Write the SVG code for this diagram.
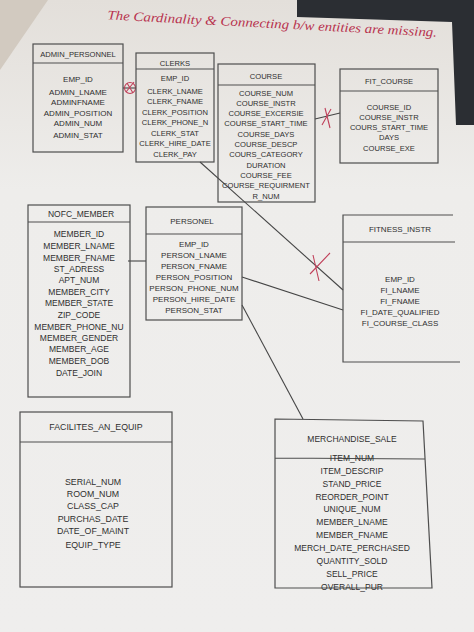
<svg xmlns="http://www.w3.org/2000/svg" width="474" height="632" viewBox="0 0 474 632">
<defs>
<linearGradient id="paper" x1="0" y1="0" x2="0" y2="1">
<stop offset="0" stop-color="#e3dfda"/>
<stop offset="0.3" stop-color="#eeedeb"/>
<stop offset="1" stop-color="#efeeed"/>
</linearGradient>
<style>
.box{fill:none;stroke:#4e4e4e;stroke-width:1.2}
.t{font-family:"Liberation Sans",Arial,sans-serif;fill:#2f2f2f;text-anchor:middle}
.s75{font-size:7.6px}
.s8{font-size:8px}
.s85{font-size:8.5px}
.s88{font-size:8.8px}
.conn line{stroke:#454545;stroke-width:1.1}
.red{stroke:#c0405a;stroke-width:1.1;fill:none}
.note{font-family:"Liberation Serif","DejaVu Serif",serif;font-style:italic;font-size:13px;fill:#b8324e}
</style>
</defs>
<rect width="474" height="632" fill="url(#paper)"/>
<polygon points="0,0 48,0 0,70" fill="#d2cac0"/>
<polygon points="297,0 474,0 474,125 456,125 452,22 297,17" fill="#2b2e33"/>

<text class="note" x="107" y="28" textLength="330" lengthAdjust="spacingAndGlyphs" transform="rotate(3 272 28)">The Cardinality &amp; Connecting b/w entities are missing.</text>

<g id="connectors" class="conn">
<line x1="123" y1="88" x2="136" y2="88"/>
<line x1="315" y1="119" x2="340" y2="113"/>
<line x1="200" y1="162" x2="343" y2="290"/>
<line x1="242" y1="277" x2="343" y2="310"/>
<line x1="242" y1="305" x2="303" y2="419"/>
<line x1="128" y1="261" x2="146" y2="261"/>
</g>
<g id="marks">
<circle class="red" cx="130" cy="88" r="5.5"/>
<path class="red" d="M126,92 L134,82 M127,83 L133,93"/>
<path class="red" d="M325,108 L330,128 M322,125 L331,109"/>
<path class="red" d="M310,274 L330,253 M313,255 L319,281"/>
</g>

<g id="admin_personnel" class="t s8">
<rect class="box" x="33" y="44" width="90" height="108"/>
<line class="box" x1="33" y1="63" x2="123" y2="63"/>
<text class="s75" x="78" y="57">ADMIN_PERSONNEL</text>
<text x="78" y="82">EMP_ID</text>
<text x="78" y="95">ADMIN_LNAME</text>
<text x="78" y="105">ADMINFNAME</text>
<text x="78" y="116">ADMIN_POSITION</text>
<text x="78" y="126">ADMIN_NUM</text>
<text x="78" y="138">ADMIN_STAT</text>
</g>

<g id="clerks" class="t s75">
<rect class="box" x="136" y="53" width="78" height="109"/>
<line class="box" x1="136" y1="69" x2="214" y2="69"/>
<text x="175" y="66">CLERKS</text>
<text x="175" y="81">EMP_ID</text>
<text x="175" y="94">CLERK_LNAME</text>
<text x="175" y="104">CLERK_FNAME</text>
<text x="175" y="115">CLERK_POSITION</text>
<text x="175" y="125">CLERK_PHONE_N</text>
<text x="175" y="136">CLERK_STAT</text>
<text x="175" y="146">CLERK_HIRE_DATE</text>
<text x="175" y="157">CLERK_PAY</text>
</g>

<g id="course" class="t s75">
<rect class="box" x="218" y="64" width="97" height="138"/>
<line class="box" x1="218" y1="85" x2="315" y2="85"/>
<text x="266" y="79">COURSE</text>
<text x="266" y="96">COURSE_NUM</text>
<text x="266" y="106">COURSE_INSTR</text>
<text x="266" y="116">COURSE_EXCERSIE</text>
<text x="266" y="126">COURSE_START_TIME</text>
<text x="266" y="137">COURSE_DAYS</text>
<text x="266" y="147">COURSE_DESCP</text>
<text x="266" y="157">COURS_CATEGORY</text>
<text x="266" y="168">DURATION</text>
<text x="266" y="178">COURSE_FEE</text>
<text x="266" y="188">COURSE_REQUIRMENT</text>
<text x="266" y="199">R_NUM</text>
</g>

<g id="fit_course" class="t s75">
<rect class="box" x="340" y="69" width="98" height="94"/>
<line class="box" x1="340" y1="91" x2="438" y2="91"/>
<text x="389" y="84">FIT_COURSE</text>
<text x="389" y="110">COURSE_ID</text>
<text x="389" y="120">COURSE_INSTR</text>
<text x="389" y="130">COURS_START_TIME</text>
<text x="389" y="140">DAYS</text>
<text x="389" y="151">COURSE_EXE</text>
</g>

<g id="nofc_member" class="t s85">
<rect class="box" x="28" y="205" width="102" height="192"/>
<line class="box" x1="28" y1="222" x2="130" y2="222"/>
<text x="81" y="217">NOFC_MEMBER</text>
<text x="79" y="237">MEMBER_ID</text>
<text x="79" y="249">MEMBER_LNAME</text>
<text x="79" y="261">MEMBER_FNAME</text>
<text x="79" y="272">ST_ADRESS</text>
<text x="79" y="283">APT_NUM</text>
<text x="79" y="295">MEMBER_CITY</text>
<text x="79" y="306">MEMBER_STATE</text>
<text x="79" y="318">ZIP_CODE</text>
<text x="79" y="330">MEMBER_PHONE_NU</text>
<text x="79" y="341">MEMBER_GENDER</text>
<text x="79" y="352">MEMBER_AGE</text>
<text x="79" y="364">MEMBER_DOB</text>
<text x="79" y="376">DATE_JOIN</text>
</g>

<g id="personel" class="t s8">
<rect class="box" x="146" y="207" width="96" height="113"/>
<line class="box" x1="146" y1="234" x2="242" y2="234"/>
<text x="192" y="224">PERSONEL</text>
<text x="194" y="247">EMP_ID</text>
<text x="194" y="258">PERSON_LNAME</text>
<text x="194" y="269">PERSON_FNAME</text>
<text x="194" y="280">PERSON_POSITION</text>
<text x="194" y="291">PERSON_PHONE_NUM</text>
<text x="194" y="302">PERSON_HIRE_DATE</text>
<text x="194" y="313">PERSON_STAT</text>
</g>

<g id="fitness_instr" class="t s8">
<path class="box" d="M453,215 L343,215 L343,362 L460,362 M343,242 L455,242"/>
<text x="400" y="232">FITNESS_INSTR</text>
<text x="400" y="282">EMP_ID</text>
<text x="400" y="293">FI_LNAME</text>
<text x="400" y="304">FI_FNAME</text>
<text x="400" y="315">FI_DATE_QUALIFIED</text>
<text x="400" y="326">FI_COURSE_CLASS</text>
</g>

<g id="facilites_an_equip" class="t s88">
<rect class="box" x="20" y="412" width="152" height="175"/>
<line class="box" x1="20" y1="442" x2="172" y2="442"/>
<text x="96" y="430">FACILITES_AN_EQUIP</text>
<text x="93" y="485">SERIAL_NUM</text>
<text x="93" y="497">ROOM_NUM</text>
<text x="93" y="509">CLASS_CAP</text>
<text x="93" y="522">PURCHAS_DATE</text>
<text x="93" y="534">DATE_OF_MAINT</text>
<text x="93" y="548">EQUIP_TYPE</text>
</g>

<g id="merchandise_sale" class="t s85">
<path class="box" d="M275,419 L423,421 L432,588 L275,588 Z M275,458 L425,459"/>
<text x="352" y="442">MERCHANDISE_SALE</text>
<text x="352" y="461">ITEM_NUM</text>
<text x="352" y="474">ITEM_DESCRIP</text>
<text x="352" y="487">STAND_PRICE</text>
<text x="352" y="500">REORDER_POINT</text>
<text x="352" y="512">UNIQUE_NUM</text>
<text x="352" y="525">MEMBER_LNAME</text>
<text x="352" y="538">MEMBER_FNAME</text>
<text x="352" y="551">MERCH_DATE_PERCHASED</text>
<text x="352" y="564">QUANTITY_SOLD</text>
<text x="352" y="577">SELL_PRICE</text>
<text x="352" y="590">OVERALL_PUR</text>
</g>
</svg>
